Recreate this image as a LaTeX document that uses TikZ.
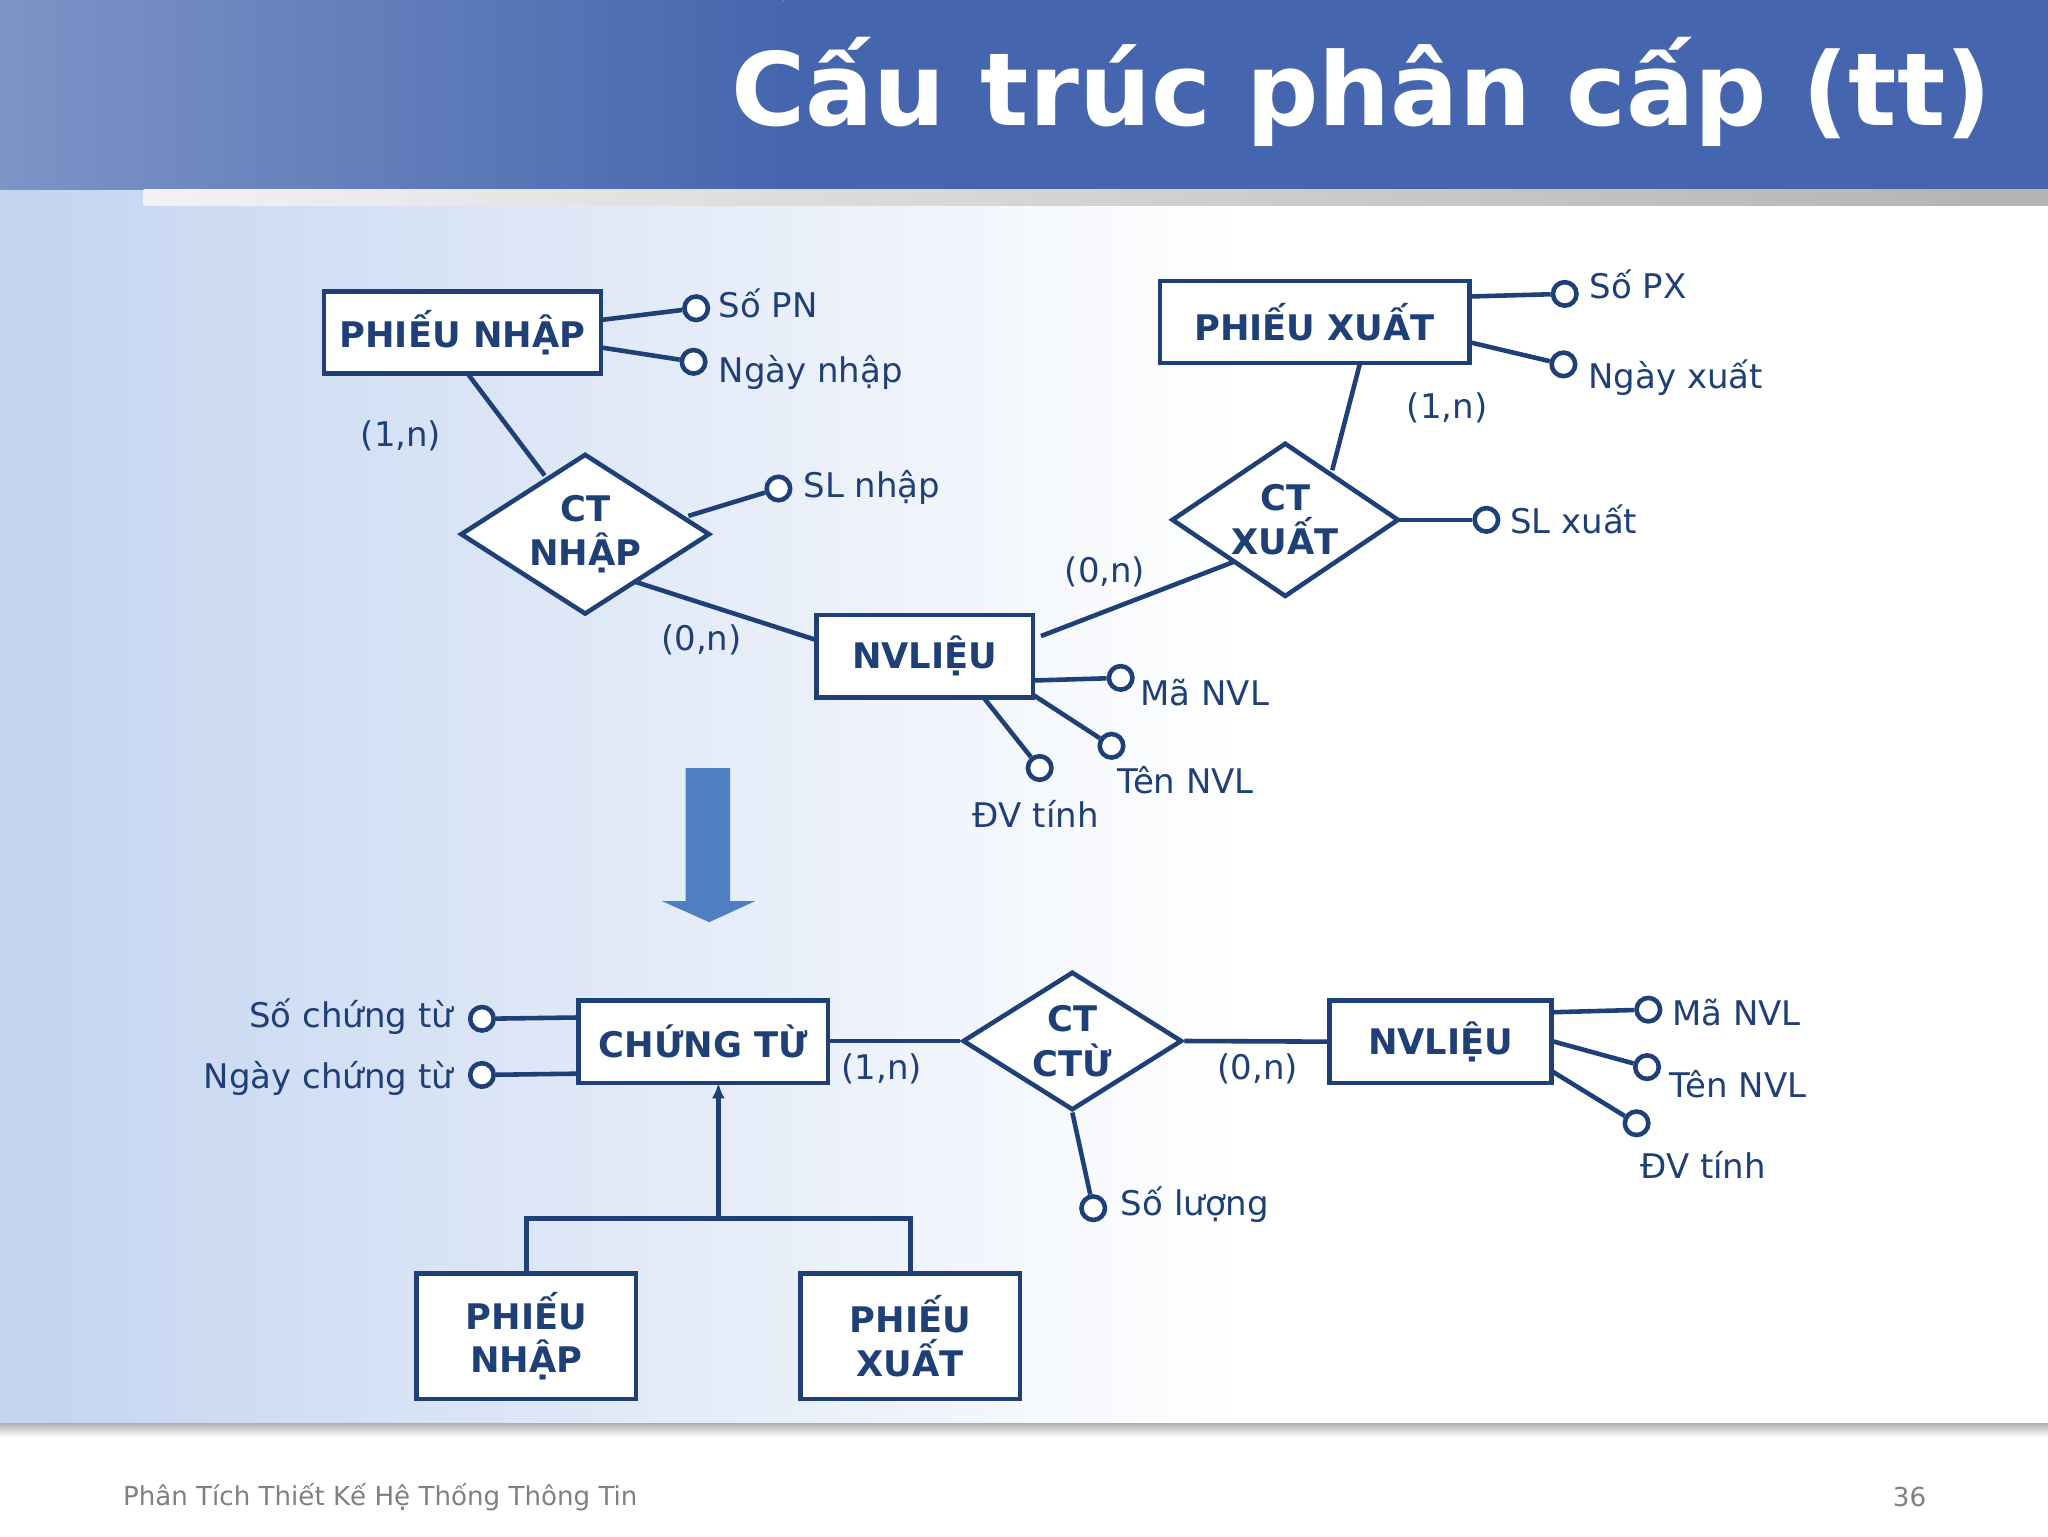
\documentclass[tikz,border=0pt]{standalone}
\usepackage{fontspec}
\setmainfont{DejaVu Sans}
\usetikzlibrary{shapes.geometric,arrows.meta}
\definecolor{navy}{HTML}{1F3F77}
\definecolor{tbar}{HTML}{4566AE}
\definecolor{arr}{HTML}{4F7FC0}
\definecolor{bgl}{HTML}{C3D4F0}
\tikzset{
  ent/.style={draw=navy,line width=3.5pt,fill=white,text=navy,font=\fontsize{27}{33}\selectfont\bfseries,inner sep=0pt,align=center},
  rel/.style={diamond,draw=navy,line width=3.5pt,fill=white,text=navy,font=\fontsize{27}{34}\selectfont\bfseries,inner sep=0pt,align=center,aspect=1.6},
  att/.style={circle,draw=navy,line width=3.5pt,fill=white,minimum size=18pt,inner sep=0pt},
  lab/.style={text=navy,font=\fontsize{26}{30}\selectfont,inner sep=0pt},
  ln/.style={draw=navy,line width=3.5pt},
}
\begin{document}
\begin{tikzpicture}[x=1pt,y=-1pt]
\useasboundingbox (0,0) rectangle (1568,1176);
% background
\shade[left color=bgl,right color=white] (0,0) rectangle (950,1095);
\fill[white] (950,0) rectangle (1568,1095);
\fill[white] (0,1095) rectangle (1568,1176);
\shade[left color=tbar!70!white,right color=tbar] (0,0) rectangle (600,145);
\fill[tbar] (600,0) rectangle (1568,145);
\shade[left color=gray!10,right color=gray!60] (110,145) rectangle (1568,157);
\shade[top color=gray!60,bottom color=white] (0,1090) rectangle (1568,1100);
\node[anchor=east,text=white,inner sep=0pt] (title) at (1525,70) {\resizebox{965pt}{!}{\bfseries Cấu trúc phân cấp (tt)}};
% top part
\node[ent,minimum width=212pt,minimum height=63pt] (pn) at (354,254.5) {PHIẾU NHẬP};
\node[att] (spn) at (533,236) {}; \node[lab,anchor=west] (lspn) at (550,232) {Số PN};
\node[att] (npn) at (531,277) {}; \node[lab,anchor=west] (lnpn) at (550,285) {Ngày nhập};
\draw[ln] (460,245) -- (spn); \draw[ln] (460,266) -- (npn);
\node[rel,minimum width=191pt,minimum height=123pt] (ctn) at (448,409) {CT\\NHẬP};
\draw[ln] (358,286) -- (417,364);
\node[lab] (l1) at (307,334) {(1,n)};
\node[att] (sln) at (596,374) {}; \node[lab,anchor=west] (lsln) at (615,373) {SL nhập};
\draw[ln] (527,395) -- (sln);
\node[ent,minimum width=166pt,minimum height=63pt] (nv) at (708,502.5) {NVLIỆU};
\draw[ln] (485,445) -- (625,490);
\node[lab] (l2) at (537,490) {(0,n)};
\node[att] (ma) at (858,519) {}; \node[lab,anchor=west] (lma) at (873,530) {Mã NVL};
\draw[ln] (791,521) -- (ma);
\node[att] (ten) at (851,571) {}; \node[lab,anchor=west] (lten) at (855,597) {Tên NVL};
\draw[ln] (791,532) -- (ten);
\node[att] (dv) at (796,588) {}; \node[lab] (ldv) at (793,623) {ĐV tính};
\draw[ln] (753,534) -- (dv);
\node[rel,minimum width=174pt,minimum height=118pt] (ctx) at (984,398) {CT\\XUẤT};
\draw[ln] (797,487) -- (945,430);
\node[lab] (l3) at (846,438) {(0,n)};
\node[att] (slx) at (1138,398) {}; \node[lab,anchor=west] (lslx) at (1156,398) {SL xuất};
\draw[ln] (1071,398) -- (slx);
\node[ent,minimum width=237pt,minimum height=63pt] (px) at (1006.5,246.5) {PHIẾU XUẤT};
\draw[ln] (1020,360) -- (1041,279);
\node[lab] (l4) at (1108,312) {(1,n)};
\node[att] (spx) at (1198,225) {}; \node[lab,anchor=west] (lspx) at (1217,218) {Số PX};
\node[att] (npx) at (1197,279) {}; \node[lab,anchor=west] (lnpx) at (1216,289) {Ngày xuất};
\draw[ln] (1125,227) -- (spx); \draw[ln] (1125,262) -- (npx);
% big arrow
\fill[arr] (525,588) -- (559,588) -- (559,690) -- (578,690) -- (543,706) -- (507,690) -- (525,690) -- cycle;
% bottom part
\node[ent,minimum width=191pt,minimum height=63pt] (ctu) at (538.5,797.5) {CHỨNG TỪ};
\node[att] (sct) at (369,780) {}; \node[lab,anchor=east] (lsct) at (347,778) {Số chứng từ};
\node[att] (nct) at (369,823) {}; \node[lab,anchor=east] (lnct) at (347,826) {Ngày chứng từ};
\draw[ln] (sct) -- (443,779); \draw[ln] (nct) -- (443,822);
\node[rel,minimum width=168pt,minimum height=106pt] (ctc) at (821,797) {CT\\CTỪ};
\draw[ln] (634,797) -- (ctc.west);
\node[lab] (l5) at (675,818) {(1,n)};
\node[ent,minimum width=170pt,minimum height=63pt] (nv2) at (1103,797.5) {NVLIỆU};
\draw[ln] (ctc.east) -- (nv2.west);
\node[lab] (l6) at (963,818) {(0,n)};
\node[att] (sl) at (837,925) {}; \node[lab,anchor=west] (lsl) at (858,922) {Số lượng};
\draw[ln] (ctc.south) -- (sl);
\node[att] (ma2) at (1262,773) {}; \node[lab,anchor=west] (lma2) at (1280,775) {Mã NVL};
\node[att] (ten2) at (1261,817) {}; \node[lab,anchor=west] (lten2) at (1278,830) {Tên NVL};
\node[att] (dv2) at (1253,860) {}; \node[lab] (ldv2) at (1304,892) {ĐV tính};
\draw[ln] (1188,775) -- (ma2); \draw[ln] (1188,797) -- (ten2); \draw[ln] (1188,820) -- (dv2);
\node[ent,minimum width=168pt,minimum height=96pt] (pn2) at (403,1023) {PHIẾU\\NHẬP};
\node[ent,minimum width=168pt,minimum height=96pt] (px2) at (697,1023) {PHIẾU\\XUẤT};
\coordinate (j) at (550,933);
\draw[ln] (pn2.north) -- (403,933) -- (697,933) -- (px2.north);
\draw[ln,-{Latex[length=12pt,width=10pt]}] (j) -- (550,829);
% footer
\node[anchor=west,text=gray,font=\fontsize{20}{24}\selectfont,inner sep=0pt] (ft) at (94,1146) {Phân Tích Thiết Kế Hệ Thống Thông Tin};
\node[text=gray,font=\fontsize{20}{24}\selectfont,inner sep=0pt] (pg) at (1462,1146) {36};
\end{tikzpicture}
\end{document}
